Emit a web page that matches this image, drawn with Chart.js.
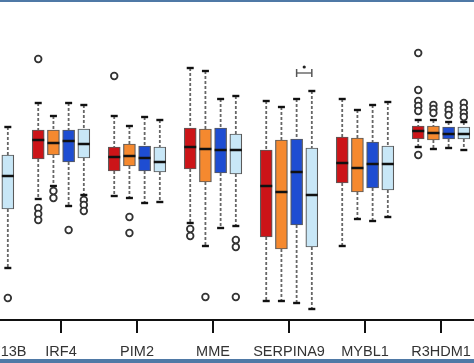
<!DOCTYPE html>
<html>
<head>
<meta charset="utf-8">
<script src="https://cdn.jsdelivr.net/npm/chart.js@4/dist/chart.umd.min.js"></script>
<style>
  html, body { margin: 0; padding: 0; background: #fff; }
  #wrap { position: relative; width: 474px; height: 363px; overflow: hidden; }
  #chart { position: absolute; left: 0; top: 0; }
  .edge { position: absolute; left: 0; width: 474px; background: #4f79a6; }
</style>
</head>
<body>
<div id="wrap">
  <canvas id="chart" width="474" height="363"></canvas>
  <div class="edge" style="top:0;height:2px"></div>
  <div class="edge" style="top:359px;height:4px"></div>
</div>
<script>
// Genes en el eje x
const genes = ['TNFRSF13B', 'IRF4', 'PIM2', 'MME', 'SERPINA9', 'MYBL1', 'R3HDM1'];

// [bigote inferior, Q1, mediana, Q3, bigote superior]
const redStats = [null, [6.05, 8.05, 9.0, 9.5, 10.85], [6.2, 7.45, 8.15, 8.65, 10.2], [4.85, 7.55, 8.65, 9.6, 12.6], [0.95, 4.15, 6.7, 8.5, 10.95], [3.7, 6.85, 7.85, 9.15, 11.05], [8.65, 9.05, 9.45, 9.7, 10.0]];
const orangeStats = [null, [6.7, 8.25, 8.85, 9.5, 10.2], [6.1, 7.7, 8.2, 8.8, 9.7], [3.7, 6.9, 8.55, 9.55, 12.45], [0.95, 3.55, 6.4, 9.0, 10.65], [5.05, 6.4, 7.6, 9.1, 10.5], [8.55, 9.0, 9.35, 9.7, 10.0]];
const blueStats = [null, [5.7, 7.9, 8.95, 9.5, 10.85], [5.85, 7.45, 8.1, 8.7, 10.15], [4.6, 7.35, 8.5, 9.6, 11.05], [0.85, 4.75, 7.4, 9.05, 11.05], [4.95, 6.6, 7.8, 8.9, 10.75], [8.6, 9.05, 9.3, 9.65, 9.9]];
const lightStats = [[2.6, 5.55, 7.2, 8.25, 9.65], [6.25, 8.1, 8.8, 9.55, 10.75], [5.9, 7.4, 7.9, 8.65, 10.0], [4.7, 7.3, 8.5, 9.3, 11.2], [0.55, 3.65, 6.25, 8.6, 11.45], [5.15, 6.5, 7.8, 8.7, 10.9], [8.5, 9.05, 9.3, 9.65, 9.9]];

// Valores atípicos
const redOutliers = [[], [13.05, 5.6, 5.3, 5.0], [12.2], [4.55, 4.2], [], [], [13.35, 11.5, 10.95, 10.7, 10.45, 8.25]];
const orangeOutliers = [[], [6.45, 6.1], [5.15, 4.35], [1.15], [], [], [10.75, 10.55, 10.35]];
const blueOutliers = [[], [4.5], [], [], [], [], [10.75, 10.5, 10.25]];
const lightOutliers = [[1.1], [6.0, 5.75, 5.45], [], [4.0, 3.65, 1.15], [], [], [10.85, 10.6, 10.35, 10.15]];

// Comparación significativa (SERPINA9, azul vs celeste)
const sigGene = 4;
const sigPair = [2, 3];
const sigLevel = 12.35;
const sigStar = 12.65;

const groups = [
    { stats: redStats, out: redOutliers, color: '#cc1418' },
    { stats: orangeStats, out: orangeOutliers, color: '#f5892f' },
    { stats: blueStats, out: blueOutliers, color: '#1e4dd2' },
    { stats: lightStats, out: lightOutliers, color: '#c8e7f7' }
];
const offsets = [-0.3, -0.1, 0.1, 0.3];

const datasets = [];

groups.forEach((g, k) => {
    const off = offsets[k];
    const boxes = [], whiskers = [], caps = [], medians = [], outs = [];
    g.stats.forEach((s, i) => {
        if (!s) return;
        const x = i + off;
        boxes.push({ x: x, y: [s[1], s[3]] });
        whiskers.push({ x: x, y: s[4] }, { x: x, y: s[3] }, { x: x, y: null },
                      { x: x, y: s[1] }, { x: x, y: s[0] }, { x: x, y: null });
        caps.push({ x: x, y: s[0] }, { x: x, y: s[4] });
        medians.push({ x: x, y: s[2] });
    });
    g.out.forEach((list, i) => {
        list.forEach(v => outs.push({ x: i + off, y: v }));
    });

    datasets.push({
        type: 'line', data: whiskers, order: 6,
        borderColor: '#666', borderWidth: 1.8, borderDash: [3, 2],
        pointRadius: 0, spanGaps: false, tension: 0
    });
    datasets.push({
        type: 'bar', data: boxes, order: 4, grouped: false,
        backgroundColor: g.color, borderColor: '#5a5a5a', borderWidth: 1.2,
        borderSkipped: false, barThickness: 12
    });
    datasets.push({
        type: 'scatter', data: caps, order: 3,
        pointStyle: 'line', pointRadius: 3.5, borderColor: '#111', borderWidth: 2.4
    });
    datasets.push({
        type: 'scatter', data: medians, order: 2,
        pointStyle: 'line', pointRadius: 6, borderColor: '#111', borderWidth: 2.5
    });
    datasets.push({
        type: 'scatter', data: outs, order: 1,
        pointStyle: 'circle', pointRadius: 3.3, borderColor: '#333',
        backgroundColor: '#fff', borderWidth: 1.8
    });
});

// Corchete de significancia
datasets.push({
    type: 'line', order: 1,
    data: sigPair.map(k => ({ x: sigGene + offsets[k], y: sigLevel })),
    borderColor: '#555', borderWidth: 1.3,
    pointStyle: 'line', pointRotation: 90, pointRadius: 4,
    pointBorderColor: '#555', pointBorderWidth: 1.5
});
datasets.push({
    type: 'scatter', order: 1,
    data: [{ x: sigGene + (offsets[sigPair[0]] + offsets[sigPair[1]]) / 2, y: sigStar }],
    pointStyle: 'circle', pointRadius: 1.6, backgroundColor: '#222', borderColor: '#222', borderWidth: 0
});

new Chart(document.getElementById('chart'), {
    type: 'bar',
    data: { datasets: datasets },
    options: {
        responsive: false,
        animation: false,
        events: [],
        layout: { padding: 0, autoPadding: false },
        plugins: {
            legend: { display: false },
            tooltip: { enabled: false }
        },
        scales: {
            x: {
                type: 'linear',
                min: 0.197,
                max: 6.434,
                offset: false,
                afterBuildTicks: s => { s.ticks = genes.map((_, i) => ({ value: i })); },
                afterFit: s => { s.height = 43; s.paddingLeft = 0; s.paddingRight = 0; },
                ticks: {
                    callback: v => genes[v],
                    autoSkip: false,
                    maxRotation: 0,
                    minRotation: 0,
                    padding: 10,
                    color: '#333',
                    font: { family: 'Liberation Sans, Arial, sans-serif', size: 14.5 }
                },
                grid: {
                    offset: false,
                    drawOnChartArea: false,
                    tickLength: 13,
                    color: '#111',
                    lineWidth: 2
                },
                border: { display: true, color: '#111', width: 2 }
            },
            y: {
                display: false,
                min: 0,
                max: 16
            }
        }
    }
});
</script>
</body>
</html>
